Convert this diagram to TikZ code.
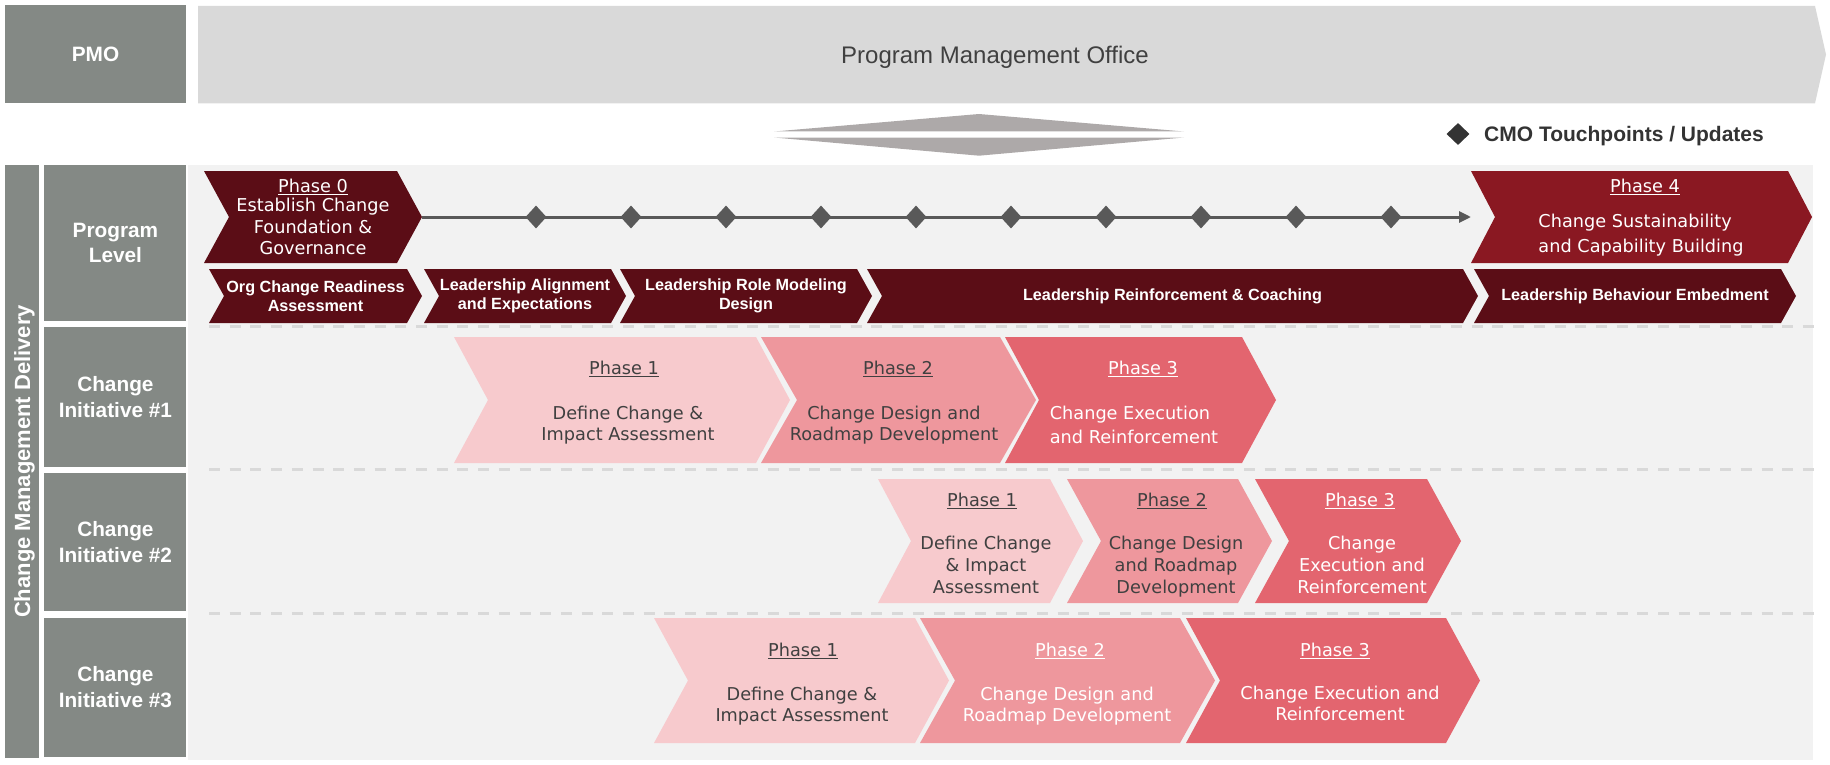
\documentclass[tikz,border=0pt]{standalone}
\usepackage{fontspec}
\setmainfont{Liberation Sans}
\newfontfamily\chevfont{DejaVu Sans}
\usetikzlibrary{shapes.geometric,arrows.meta}

% --- colours ---
\definecolor{labgray}{RGB}{132,137,133}
\definecolor{pmogray}{RGB}{217,217,217}
\definecolor{bggray}{RGB}{242,242,242}
\definecolor{dashgray}{RGB}{217,217,217}
\definecolor{arrgray}{RGB}{173,169,169}
\definecolor{linegray}{RGB}{89,89,89}
\definecolor{textgray}{RGB}{64,64,64}
\definecolor{legtext}{RGB}{51,51,51}
\definecolor{progdark}{RGB}{91,13,22}
\definecolor{phasefour}{RGB}{138,24,34}
\definecolor{pinkone}{RGB}{247,202,205}
\definecolor{pinktwo}{RGB}{238,151,157}
\definecolor{pinkthree}{RGB}{227,101,111}

% underlined phase title, the rule a bit below the baseline
\newcommand{\ulphase}[1]{\setbox0\hbox{#1}\rlap{\rule[-3.4pt]{\wd0}{1.5pt}}\box0}

% chevron: #1 name, #2 left x, #3 right x (before tip), #4 middle y,
% #5 half height, #6 depth of notch and tip, #7 fill colour
\newcommand{\chev}[7]{%
  \fill[#7] ({#2},{#4-#5}) -- ({#3},{#4-#5}) -- ({#3+#6},{#4})
    -- ({#3},{#4+#5}) -- ({#2},{#4+#5}) -- ({#2+#6},{#4}) -- cycle;
  \coordinate (#1) at ({(#2+#3+#6)/2},{#4});
  \coordinate (#1-tip) at ({#3+#6},{#4});
}

\tikzset{
  lab/.style={fill=labgray, text=white, inner sep=0pt, align=center,
    font=\bfseries\fontsize{20.8}{25.7}\selectfont},
  chevtxt/.style={inner sep=0pt, align=center,
    font=\chevfont\fontsize{17.7}{21}\selectfont},
  chevmid/.style={chevtxt, font=\chevfont\fontsize{17.7}{22}\selectfont},
  chevwide/.style={chevtxt, font=\chevfont\fontsize{17.7}{24.8}\selectfont},
  phtitle/.style={inner sep=0pt, anchor=base,
    font=\chevfont\fontsize{17.7}{21}\selectfont},
  bartxt/.style={text=white, inner sep=0pt, align=center,
    font=\bfseries\fontsize{16.2}{19}\selectfont},
  sep/.style={dashgray, line width=2.7pt, dash pattern=on 11pt off 9.7pt},
  tline/.style={linegray, line width=3pt, -{Triangle[length=12pt,width=11pt]}},
  tpoint/.style={diamond, fill=linegray, inner sep=0pt,
    minimum width=21pt, minimum height=23pt},
}

\begin{document}
\begin{tikzpicture}[x=1pt, y=-1pt]

    % --- page frame (pixels of the reference, y downwards) ---
    \useasboundingbox (0,0) rectangle (1830,765);

    % --- 1. PMO row ---
    \node[lab, minimum width=181.7pt, minimum height=98pt] (pmo) at (95.5,54.3) {PMO};
    \fill[pmogray] (198,6) -- (1815,6) -- (1826,54.5) -- (1815,103.3) -- (198,103.3) -- cycle;
    \node[anchor=base, inner sep=0pt, text=textgray,
      font=\fontsize{24}{28}\selectfont] (pmotxt) at (995,64) {Program Management Office};

    % --- 2. up / down arrow and legend ---
    \fill[arrgray] (774,131.5) -- (979,114) -- (1184,131.5) -- cycle;
    \fill[arrgray] (774,137.5) -- (979,155.7) -- (1184,137.5) -- cycle;
    \node[diamond, fill=legtext, inner sep=0pt, minimum width=23pt,
      minimum height=22pt] (legmark) at (1458,134) {};
    \node[anchor=base west, inner sep=0pt, text=legtext,
      font=\bfseries\fontsize{21}{25}\selectfont] (legtxt) at (1484,141.7)
      {CMO Touchpoints / Updates};

    % --- 3. row labels ---
    \fill[bggray] (188,165) rectangle (1813,760);
    \node[lab, rotate=90, minimum width=593pt, minimum height=33.5pt, text depth=0pt,
      font=\bfseries\fontsize{22}{26}\selectfont] (cmd) at (22.2,461.5)
      {Change Management Delivery};
    \node[lab, minimum width=142pt, minimum height=155.7pt] (prog) at (115.4,242.9) {Program\\Level};
    \node[lab, minimum width=142pt, minimum height=139.4pt] (ci1) at (115.4,397) {Change\\Initiative \#1};
    \node[lab, minimum width=142pt, minimum height=138.3pt] (ci2) at (115.4,541.9) {Change\\Initiative \#2};
    \node[lab, minimum width=142pt, minimum height=139pt] (ci3) at (115.4,687.2) {Change\\Initiative \#3};

    % dashed separators between the rows
    \draw[sep] (209,326.5) -- (1820,326.5);
    \draw[sep] (209,469.5) -- (1820,469.5);
    \draw[sep] (209,613.5) -- (1820,613.5);

    % --- 4. program level: phase 0, touchpoints, phase 4 ---
    \chev{p0}{204}{397}{217}{46}{25}{progdark}
    \node[phtitle, text=white] (p0t) at (313,192) {\ulphase{Phase 0}};
    \node[chevtxt, text=white, font=\chevfont\fontsize{17.7}{21.5}\selectfont] (p0d) at (313,226.8)
      {Establish Change\\Foundation \&\\Governance};

    \chev{p4}{1471}{1788}{217}{46}{24}{phasefour}
    \node[phtitle, text=white] (p4t) at (1645,192) {\ulphase{Phase 4}};
    \node[chevwide, align=left, text=white] (p4d) at (1641,235.3)
      {Change Sustainability\\and Capability Building};

    \coordinate (tlend) at (1471,217);
    \draw[tline] (p0-tip) -- (tlend);
    \foreach \i in {0,...,9}
        \node[tpoint] (cmo\i) at ({536+95*\i},217) {};

    % leadership track under the timeline
    \chev{b1}{209}{407}{296}{27}{15}{progdark}
    \chev{b2}{424}{611}{296}{27}{15}{progdark}
    \chev{b3}{620}{857}{296}{27}{15}{progdark}
    \chev{b4}{867}{1463}{296}{27}{15}{progdark}
    \chev{b5}{1474}{1781}{296}{27}{15}{progdark}
    \node[bartxt] (b1t) at (b1) {Org Change Readiness\\Assessment};
    \node[bartxt] (b2t) at (b2) {Leadership Alignment\\and Expectations};
    \node[bartxt] (b3t) at (b3) {Leadership Role Modeling\\Design};
    \node[bartxt] (b4t) at (b4) {Leadership Reinforcement \& Coaching};
    \node[bartxt] (b5t) at (b5) {Leadership Behaviour Embedment};

    % --- 5. change initiative #1 ---
    \chev{a1}{454}{756}{400}{63}{34}{pinkone}
    \chev{a2}{761}{1000}{400}{63}{36}{pinktwo}
    \chev{a3}{1005}{1242}{400}{63}{34}{pinkthree}
    \node[phtitle, text=textgray] (a1t) at (624,374) {\ulphase{Phase 1}};
    \node[chevtxt, text=textgray] (a1d) at (628,425) {Define Change \&\\Impact Assessment};
    \node[phtitle, text=textgray] (a2t) at (898,374) {\ulphase{Phase 2}};
    \node[chevtxt, text=textgray] (a2d) at (894,425) {Change Design and\\Roadmap Development};
    \node[phtitle, text=white] (a3t) at (1143,374) {\ulphase{Phase 3}};
    \node[chevwide, align=left, text=white] (a3d) at (1134,424.8) {Change Execution\\and Reinforcement};

    % --- 6. change initiative #2 ---
    \chev{c1}{878}{1050}{541}{62}{33}{pinkone}
    \chev{c2}{1067}{1238}{541}{62}{34}{pinktwo}
    \chev{c3}{1255}{1427}{541}{62}{34}{pinkthree}
    \node[phtitle, text=textgray] (c1t) at (982,506) {\ulphase{Phase 1}};
    \node[chevmid, text=textgray] (c1d) at (986,564.8) {Define Change\\\& Impact\\Assessment};
    \node[phtitle, text=textgray] (c2t) at (1172,506) {\ulphase{Phase 2}};
    \node[chevmid, text=textgray] (c2d) at (1176,566.9) {Change Design\\and Roadmap\\Development};
    \node[phtitle, text=white] (c3t) at (1360,506) {\ulphase{Phase 3}};
    \node[chevmid, text=white] (c3d) at (1362,564.8) {Change\\Execution and\\Reinforcement};

    % --- 7. change initiative #3 ---
    \chev{e1}{654}{915}{680.5}{62.5}{34}{pinkone}
    \chev{e2}{920}{1180}{680.5}{62.5}{35}{pinktwo}
    \chev{e3}{1186}{1446}{680.5}{62.5}{34}{pinkthree}
    \node[phtitle, text=textgray] (e1t) at (803,656) {\ulphase{Phase 1}};
    \node[chevtxt, text=textgray] (e1d) at (802,705.9) {Define Change \&\\Impact Assessment};
    \node[phtitle, text=white] (e2t) at (1070,656) {\ulphase{Phase 2}};
    \node[chevtxt, text=white] (e2d) at (1067,705.9) {Change Design and\\Roadmap Development};
    \node[phtitle, text=white] (e3t) at (1335,656) {\ulphase{Phase 3}};
    \node[chevtxt, text=white] (e3d) at (1340,703.8) {Change Execution and\\Reinforcement};

\end{tikzpicture}
\end{document}
